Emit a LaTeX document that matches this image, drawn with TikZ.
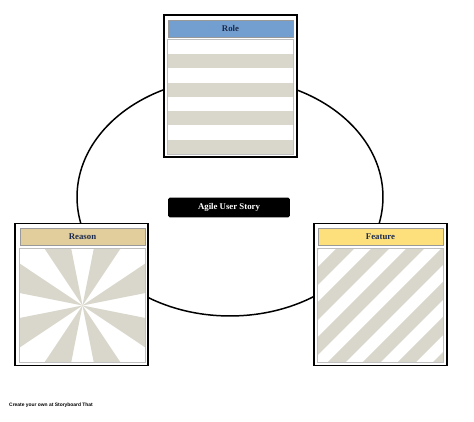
\documentclass[tikz,border=0pt]{standalone}
\usepackage{fontspec}
\newfontfamily\footfont{Liberation Sans}
\newfontfamily\headfont{Liberation Serif}
\usepackage{tikz}
\definecolor{rolecol}{HTML}{729FCF}
\definecolor{reasoncol}{HTML}{E2CE9C}
\definecolor{featurecol}{HTML}{FDE07C}
\definecolor{stripecol}{HTML}{D9D7CB}
\definecolor{headtext}{HTML}{1C2A4C}

\begin{document}
\begin{tikzpicture}[x=0.02cm,y=-0.02cm]
            % three cards round the story ellipse
            \tikzstyle{frame} = [draw,rectangle,line width=1.1pt,fill=white,inner sep=0pt,minimum width=2.66cm,minimum height=2.84cm];
            \tikzstyle{header} = [draw=black!40,rectangle,line width=0.3pt,inner sep=0pt,minimum width=2.5cm,minimum height=0.34cm,text=headtext,font=\headfont\bfseries\fontsize{5}{6}\selectfont];
            \tikzstyle{panel} = [rectangle,inner sep=0pt,minimum width=2.5cm];
            \tikzstyle{panelline} = [draw=black!25,line width=0.4pt];
            \tikzstyle{stripe} = [fill=stripecol];
            \tikzstyle{title} = [fill=black,rectangle,rounded corners=1pt,text=white,minimum width=2.44cm,minimum height=0.38cm,font=\headfont\bfseries\fontsize{5}{6}\selectfont];

            \useasboundingbox (0,0) rectangle (474,422);

            \draw[line width=0.85pt] (230,197) ellipse [x radius=3.06cm, y radius=2.38cm];

            \node[title] (story) at (229,207.5) {Agile User Story};

            \node[frame] (rolebox) at (230.5,86) {};
            \node[header,fill=rolecol] (rolehead) at (230.5,28.5) {Role};
            \node[panel,minimum height=2.28cm] (rolepanel) at (230.5,97) {};
            \foreach \i in {0,...,3}
                \fill[stripe] (168,{40+14.25*(2*\i+1)}) rectangle (293,{40+14.25*(2*\i+2)});
            \draw[panelline] (rolepanel.south west) rectangle (rolepanel.north east);

            \node[frame] (reasonbox) at (81.5,294.5) {};
            \node[header,fill=reasoncol] (reasonhead) at (82.5,236.5) {Reason};
            \node[panel,minimum height=2.26cm] (reasonpanel) at (82.5,305.5) {};
            \begin{scope}
                \clip (reasonpanel.south west) rectangle (reasonpanel.north east);
                \foreach \a in {11.25,56.25,...,326.25}
                    \fill[stripe] (reasonpanel.center) -- +(\a:150) -- +(\a+22.5:150) -- cycle;
            \end{scope}
            \draw[panelline] (reasonpanel.south west) rectangle (reasonpanel.north east);

            \node[frame] (featurebox) at (380.5,294.5) {};
            \node[header,fill=featurecol] (featurehead) at (380.5,236.5) {Feature};
            \node[panel,minimum height=2.26cm] (featurepanel) at (380.5,305.5) {};
            \begin{scope}
                \clip (featurepanel.south west) rectangle (featurepanel.north east);
                \foreach \k in {-1,...,8}
                    \fill[stripe] ({336+35*\k},249) -- ++(18,0) -- ++(-130,130) -- ++(-18,0) -- cycle;
            \end{scope}
            \draw[panelline] (featurepanel.south west) rectangle (featurepanel.north east);

            \node[anchor=west,font=\footfont\bfseries\fontsize{2.8}{3}\selectfont] (credit) at (3,405) {Create your own at Storyboard That};

        \end{tikzpicture}
\end{document}
